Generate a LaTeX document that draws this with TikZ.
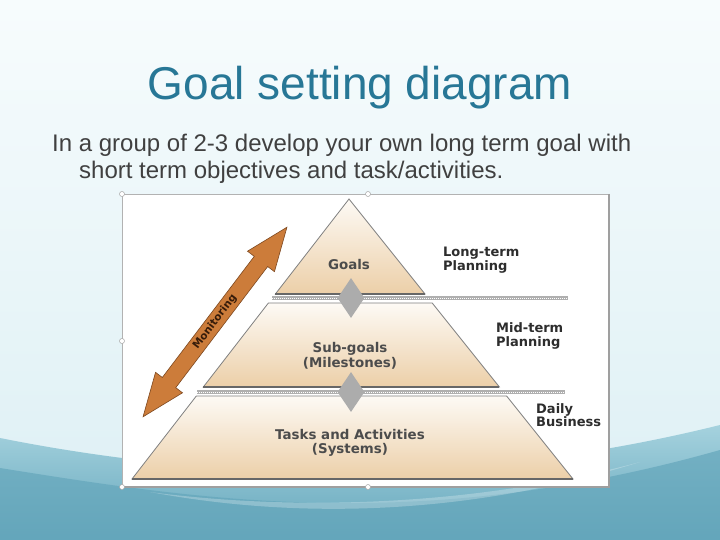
\documentclass[tikz,border=0pt]{standalone}
\usepackage{fontspec}
\setmainfont{Liberation Sans}
\newfontfamily\diagfont{DejaVu Sans}
\usetikzlibrary{shapes.geometric,shapes.arrows}

\definecolor{titleblue}{RGB}{39,119,150}
\definecolor{bodygray}{RGB}{64,64,64}
\definecolor{bgtop}{RGB}{247,252,253}
\definecolor{bgmid}{RGB}{220,239,244}
\definecolor{wavelight}{RGB}{165,210,222}
\definecolor{wavedark}{RGB}{100,166,187}
\definecolor{pyrtop}{RGB}{253,250,245}
\definecolor{pyrbot}{RGB}{236,207,168}
\definecolor{pyredge}{RGB}{128,128,128}
\definecolor{sepgray}{RGB}{175,175,175}
\definecolor{diagray}{RGB}{172,172,172}
\definecolor{arroworange}{RGB}{204,124,58}
\definecolor{arrowedge}{RGB}{125,72,32}
\definecolor{arrowtext}{RGB}{55,28,10}
\definecolor{labeltext}{RGB}{45,45,45}

\begin{document}
\begin{tikzpicture}[x=1pt,y=-1pt,
    pyrlabel/.style={font=\diagfont\bfseries\fontsize{13.4}{14.5}\selectfont, text=labeltext!85!white, align=center, inner sep=0pt},
    planlabel/.style={font=\diagfont\bfseries\fontsize{13}{13.5}\selectfont, text=labeltext, align=left, anchor=west, inner sep=0pt},
    diamondmark/.style={diamond, fill=diagray, minimum width=27pt, minimum height=40pt, inner sep=0pt},
    monitorarrow/.style={double arrow, draw=arrowedge, fill=arroworange, line width=0.6pt,
        minimum height=238pt, minimum width=32pt, double arrow head extend=8.5pt,
        double arrow tip angle=43, inner xsep=2pt, inner ysep=3pt,
        font=\diagfont\bfseries\fontsize{10.5}{11}\selectfont, text=arrowtext},
    handle/.style={draw=gray!70, fill=white, line width=0.5pt}]
\useasboundingbox (0,0) rectangle (720,540);

% background and waves
\shade[top color=bgtop, bottom color=bgmid] (0,0) rectangle (720,540);
\shade[top color=wavelight, bottom color=wavedark]
    (0,438) .. controls (200,478) and (450,492) .. (720,425) -- (720,540) -- (0,540) -- cycle;
\fill[wavedark, opacity=0.7]
    (0,468) .. controls (200,500) and (420,535) .. (720,450) -- (720,540) -- (0,540) -- cycle;
\fill[white, opacity=0.25]
    (150,492) .. controls (300,520) and (470,515) .. (640,462) .. controls (480,505) and (300,512) .. (150,492) -- cycle;

% title and text
\node[anchor=base, inner sep=0pt, font=\fontsize{46}{55}\selectfont, text=titleblue] (title) at (360,100) {Goal setting diagram};
\node[anchor=base west, inner sep=0pt, font=\fontsize{24}{27}\selectfont, text=bodygray] (intro1) at (52,152) {In a group of 2-3 develop your own long term goal with};
\node[anchor=base west, inner sep=0pt, font=\fontsize{24}{27}\selectfont, text=bodygray] (intro2) at (79,179) {short term objectives and task/activities.};

% picture frame
\fill[white] (122,194) rectangle (609,487);
\draw[gray!60, line width=0.8pt] (122,194) rectangle (609,487);
\draw[gray!75, line width=1.4pt] (609,194) -- (609,487) -- (122,487);
\foreach \p in {(122,194),(368,194),(122,341),(122,487),(368,487)}
    \draw[handle] \p circle (2.5pt);

% pyramid bands
\foreach \ya/\yb in {199/294,303/387,396/479}{
    \shadedraw[top color=pyrtop, bottom color=pyrbot, draw=pyredge, line width=0.8pt]
        ({349-0.775*(\ya-199)},\ya) -- ({349+0.8*(\ya-199)},\ya) -- ({349+0.8*(\yb-199)},\yb) -- ({349-0.775*(\yb-199)},\yb) -- cycle;
    \draw[pyredge!80!black, line width=1.2pt] ({349-0.775*(\yb-199)},\yb) -- ({349+0.8*(\yb-199)},\yb);
}

% separators
\foreach \y/\xa/\xb in {298/272/568,392/197/565}{
    \draw[sepgray, line width=3.2pt] (\xa,\y) -- (\xb,\y);
    \draw[white, line width=0.5pt, dash pattern=on 1pt off 1pt] (\xa,\y) -- (\xb,\y);
}
\node[diamondmark] (dia1) at (351,298) {};
\node[diamondmark] (dia2) at (351,392) {};

% labels
\node[pyrlabel] (goals) at (349,264.5) {Goals};
\node[pyrlabel] (subgoals) at (350,356) {Sub-goals\\(Milestones)};
\node[pyrlabel] (tasks) at (350,443) {Tasks and Activities\\(Systems)};
\node[planlabel] (longterm) at (443,260) {Long-term\\Planning};
\node[planlabel] (midterm) at (496,336) {Mid-term\\Planning};
\node[planlabel] (daily) at (536,415) {Daily\\Business};

% monitoring arrow
\node[monitorarrow, rotate=52.8] (monitor) at (215,322) {Monitoring};
\end{tikzpicture}
\end{document}
